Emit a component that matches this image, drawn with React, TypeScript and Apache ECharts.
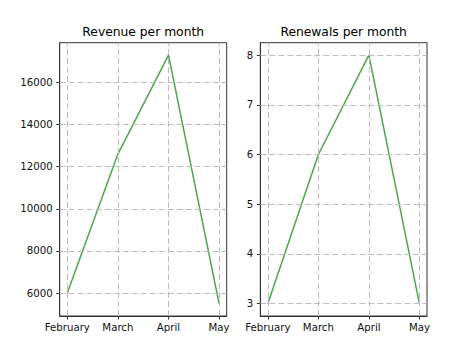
import React, { useEffect, useRef } from "react";
import * as echarts from "echarts";

const months = ["February", "March", "April", "May"];
const revenue = [6000, 12600, 17300, 5500];
const renewals = [3, 6, 8, 3];
const revenueTicks = [6000, 8000, 10000, 12000, 14000, 16000];
const renewalTicks = [3, 4, 5, 6, 7, 8];
const titles = ["Revenue per month", "Renewals per month"];

const LINE = "#4da64d";
const GRIDC = "#bcbcbc";
const SPINE = "#333";
const FONT = "DejaVu Sans";

function padRange(vals: number[]) {
  const lo = Math.min(...vals);
  const hi = Math.max(...vals);
  const r = hi - lo;
  return [lo - 0.05 * r, hi + 0.05 * r];
}

export default function App() {
  const ref = useRef<HTMLDivElement>(null);
  useEffect(() => {
    const chart = echarts.init(ref.current!, null, { renderer: "svg" });
    const grids = [
      { left: 59.7, top: 42.7, width: 167, height: 273.3 },
      { left: 260.3, top: 42.7, width: 166.7, height: 273.3 },
    ];
    const xIdx = months.map((_, i) => i);
    const xr = padRange(xIdx);
    const series = [revenue, renewals];
    const ticks = [revenueTicks, renewalTicks];
    const option: any = {
      animation: false,
      backgroundColor: "#fff",
      grid: grids.map((g) => ({
        ...g,
        show: true,
        borderColor: SPINE,
        borderWidth: 1,
        backgroundColor: "transparent",
        containLabel: false,
      })),
      xAxis: grids.map((_, gi) => ({
        type: "value",
        gridIndex: gi,
        min: xr[0],
        max: xr[1],
        axisLine: { show: true, onZero: false, lineStyle: { color: SPINE, width: 1 } },
        axisTick: {
          show: true,
          length: 3.5,
          customValues: xIdx,
          lineStyle: { color: SPINE },
        },
        axisLabel: {
          show: true,
          customValues: xIdx,
          formatter: (v: number) => months[Math.round(v)] ?? "",
          color: "#111",
          fontFamily: FONT,
          fontSize: 10.2,
          margin: 6,
        },
        splitLine: { show: false },
      })),
      yAxis: grids.map((_, gi) => {
        const yr = padRange(series[gi]);
        return {
          type: "value",
          gridIndex: gi,
          min: yr[0],
          max: yr[1],
          axisLine: { show: true, onZero: false, lineStyle: { color: SPINE, width: 1 } },
          axisTick: {
            show: true,
            length: 3.5,
            customValues: ticks[gi],
            lineStyle: { color: SPINE },
          },
          axisLabel: {
            show: true,
            customValues: ticks[gi],
            formatter: (v: number) => String(Math.round(v)),
            color: "#111",
            fontFamily: FONT,
            fontSize: 10.2,
            margin: 7,
          },
          splitLine: { show: false },
        };
      }),
      graphic: grids.map((g, gi) => ({
        type: "text",
        x: g.left + g.width / 2,
        y: 32,
        style: {
          text: titles[gi],
          fill: "#000",
          font: `12.3px "${FONT}"`,
          textAlign: "center",
          textVerticalAlign: "middle",
        },
      })),
      series: series.map((vals, gi) => ({
        type: "line",
        xAxisIndex: gi,
        yAxisIndex: gi,
        data: vals.map((v, i) => [xIdx[i], v]),
        showSymbol: false,
        lineStyle: { color: LINE, width: 1.5 },
        itemStyle: { color: LINE },
        silent: true,
        markLine: {
          silent: true,
          symbol: "none",
          label: { show: false },
          lineStyle: { color: GRIDC, type: [6, 3], width: 1 },
          data: [
            ...xIdx.map((x) => ({ xAxis: x })),
            ...ticks[gi].map((y) => ({ yAxis: y })),
          ],
        },
      })),
    };
    chart.setOption(option);
    return () => chart.dispose();
  }, []);
  return (
    <div
      ref={ref}
      style={{ position: "fixed", left: 0, top: 0, width: 474, height: 355 }}
    />
  );
}
